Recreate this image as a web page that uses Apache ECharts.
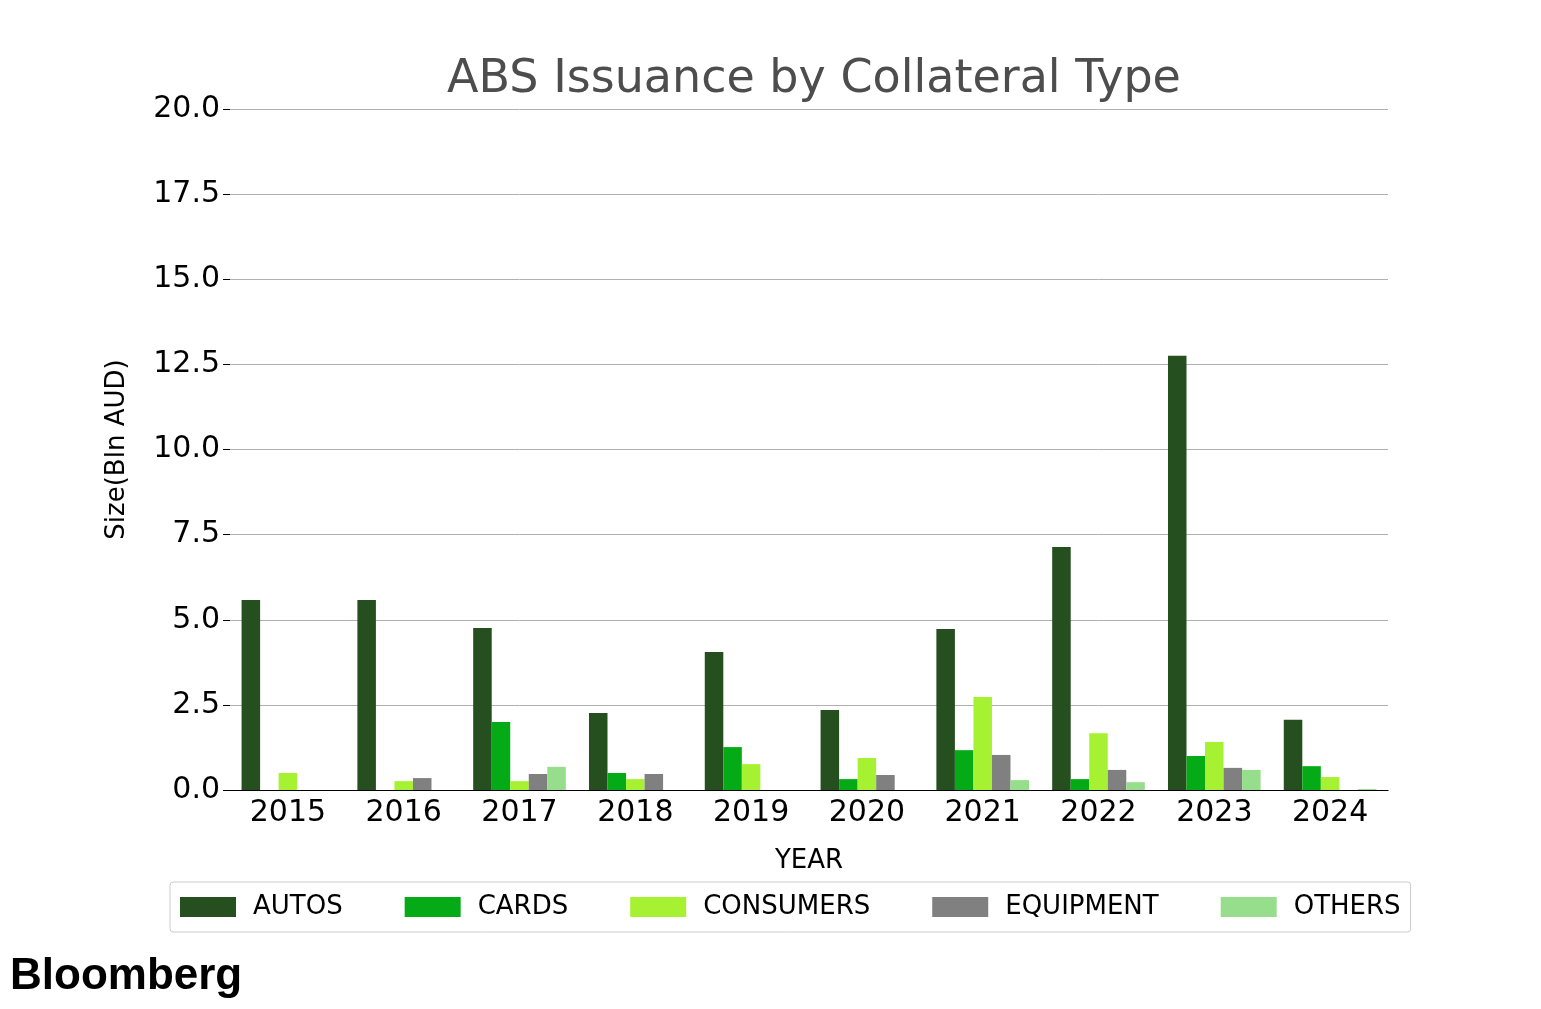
<!DOCTYPE html>
<html>
<head>
<meta charset="utf-8">
<script src="https://cdn.jsdelivr.net/npm/echarts@6/dist/echarts.min.js"></script>
<style>
  html, body { margin: 0; padding: 0; background: #fff; }
  #chart-container { width: 1541px; height: 1009px; }
</style>
</head>
<body>
<div id="chart-container"></div>
<script>
var years = ["2015", "2016", "2017", "2018", "2019", "2020", "2021", "2022", "2023", "2024"];
var autos = [5.58, 5.58, 4.76, 2.26, 4.05, 2.35, 4.73, 7.14, 12.75, 2.06];
var cards = [0, 0, 2.0, 0.5, 1.26, 0.32, 1.17, 0.32, 1.0, 0.7];
var consumers = [0.5, 0.26, 0.26, 0.32, 0.76, 0.94, 2.73, 1.67, 1.41, 0.38];
var equipment = [0, 0.35, 0.47, 0.47, 0, 0.44, 1.03, 0.59, 0.65, 0];
var others = [0, 0, 0.68, 0, 0, 0, 0.29, 0.23, 0.59, 0.03];
var yTicks = ["0.0", "2.5", "5.0", "7.5", "10.0", "12.5", "15.0", "17.5", "20.0"];

var dom = document.getElementById("chart-container");
var myChart = echarts.init(dom, null, { renderer: "canvas" });

function bar(name, data, color) {
  return { name: name, type: "bar", data: data, barGap: "0%", barCategoryGap: "20%",
           itemStyle: { color: color }, animation: false };
}

var option = {
  textStyle: { fontFamily: "DejaVu Sans" },
  title: {
    text: "ABS Issuance by Collateral Type",
    left: 809, top: 52, textAlign: "center",
    textStyle: { fontSize: 46, fontWeight: "normal", color: "#4d4d4d", fontFamily: "DejaVu Sans" }
  },
  legend: {
    left: 170, top: 882, width: 1270, height: 40,
    itemWidth: 56, itemHeight: 20, itemGap: 62,
    padding: [12, 10, 12, 10],
    borderColor: "#cccccc", borderWidth: 1, borderRadius: 3,
    icon: "rect",
    textStyle: { fontSize: 26, color: "#000", padding: [0, 0, 0, 12] }
  },
  grid: { left: 230, right: 153, top: 109, bottom: 219 },
  xAxis: {
    type: "category", data: years,
    name: "YEAR", nameLocation: "middle", nameGap: 58,
    nameTextStyle: { fontSize: 26, color: "#000" },
    axisLine: { lineStyle: { color: "#000", width: 1.2 } },
    axisTick: { show: false },
    axisLabel: { fontSize: 30, color: "#000", margin: 8 }
  },
  yAxis: {
    type: "value", min: 0, max: 20, interval: 2.5,
    name: "Size(Bln AUD)", nameLocation: "middle", nameGap: 100,
    nameTextStyle: { fontSize: 26, color: "#000" },
    axisLine: { show: false },
    axisTick: { show: true, length: 7, lineStyle: { color: "#000" } },
    axisLabel: { fontSize: 30, color: "#000", margin: 10,
      formatter: function (v) { return yTicks[Math.round(v / 2.5)]; } },
    splitLine: { lineStyle: { color: "#b0b0b0", width: 1 } }
  },
  series: [
    bar("AUTOS", autos, "#254f1e"),
    bar("CARDS", cards, "#05ab16"),
    bar("CONSUMERS", consumers, "#a6f232"),
    bar("EQUIPMENT", equipment, "#808080"),
    bar("OTHERS", others, "#96de8b")
  ],
  graphic: [{
    type: "text", left: 10, top: 955,
    style: { text: "Bloomberg", fontSize: 44, fontWeight: "bold", fill: "#000",
             fontFamily: "Liberation Sans", letterSpacing: -2 }
  }]
};

myChart.setOption(option);
window.addEventListener("resize", myChart.resize);
</script>
</body>
</html>
